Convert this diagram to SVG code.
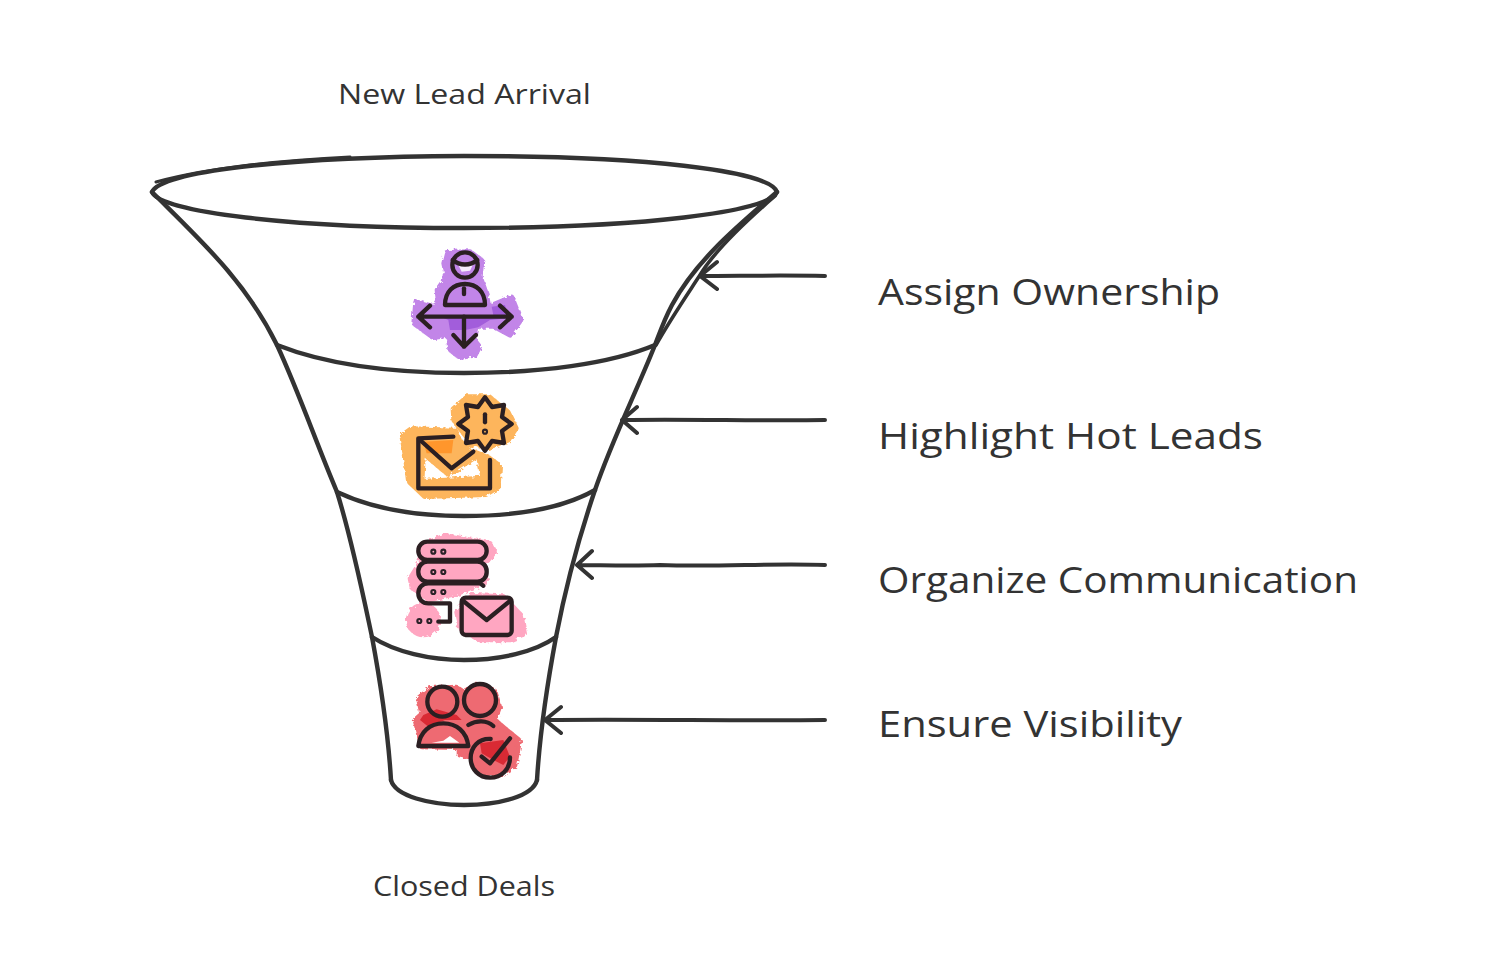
<svg xmlns="http://www.w3.org/2000/svg" width="1512" height="978" viewBox="0 0 1512 978">
<style>
.ln{fill:none;stroke:#333;stroke-width:4.4;stroke-linecap:round;stroke-linejoin:round}
.ar{fill:none;stroke:#333;stroke-width:4;stroke-linecap:round;stroke-linejoin:round}
.ic{fill:none;stroke:#2b1f22;stroke-width:13;stroke-linecap:round;stroke-linejoin:round}
.dot{fill:none;stroke:#2b2228;stroke-width:6.5}
.t{font-family:"Open Sans","Liberation Sans",sans-serif;fill:#333}
.big{font-size:37px}
.small{font-size:28px}
.blob{stroke-width:16;stroke-linejoin:round;filter:url(#rough)}
.pu{fill:#c285e8;stroke:#c285e8}
.or{fill:#fdb55c;stroke:#fdb55c}
.pk{fill:#ffa6c1;stroke:#ffa6c1}
.rd{fill:#ee6a72;stroke:#ee6a72}
</style>
<defs>
<filter id="rough" x="-10%" y="-10%" width="120%" height="120%">
<feTurbulence type="fractalNoise" baseFrequency="0.09" numOctaves="2" seed="4" result="n"/>
<feDisplacementMap in="SourceGraphic" in2="n" scale="16"/>
</filter>
</defs>
<rect width="1512" height="978" fill="#fff"/>
<g id="funnel">
<path class="ln" d="M152 192C160 172 280 157 464 156C640 156 770 170 777 192C770 212 640 228 464 228C290 228 160 212 152 192Z"/>
<path class="ln" style="stroke-width:3" d="M156 182C200 170 270 161 350 157"/>
<path class="ln" d="M152 192C200 240 245 280 277 345C300 395 315 440 337 492C352 540 362 590 372 637C380 680 388 730 391 780"/>
<path class="ln" d="M777 192C735 228 695 262 672 305C664 320 660 332 655 345C635 395 612 440 595 490C578 540 565 590 556 637C548 680 540 730 537 780"/>
<path class="ln" style="stroke-width:3.6" d="M775 196C745 222 715 250 700 275C685 298 670 320 656 345"/>
<path class="ln" d="M277 345C330 366 400 373 464 373C540 373 610 364 655 345"/>
<path class="ln" d="M337 492C375 510 420 516 464 516C510 516 560 510 595 490"/>
<path class="ln" d="M372 637C395 652 430 660 464 660C500 660 535 652 556 637"/>
<path class="ln" d="M391 780C395 796 430 805 464 805C500 805 533 796 537 780"/>
</g>
<g id="connectors">
<path class="ar" d="M825 276C780 275 740 276 700 276M717 262L700 276L717 289"/>
<path class="ar" d="M825 420C760 421 690 419 622 420M637 407L622 420L637 433"/>
<path class="ar" d="M825 565C770 563 720 567 660 565C630 566 600 565 577 565M592 551L577 565L592 578"/>
<path class="ar" d="M825 720C740 721 640 719 545 720M561 707L545 720L561 733"/>
</g>
<g id="node-assign-ownership">
<g transform="translate(390 240) scale(.3333)">
<path class="blob pu" d="M170 38L240 36L275 62L270 110L288 160L296 200L365 172L392 240L360 285L310 258L262 258L252 300L268 320L255 345L210 352L180 328L175 285L130 292L72 250L78 186L130 200L146 190L142 150L170 110L162 70Z"/>
<path fill="#a25ddb" d="M140 225L310 225L305 200L345 195L355 235L300 240L265 262L225 270L180 270L175 240Z"/>
<path fill="#fff" opacity=".85" d="M205 75L250 72L240 92L215 95Z"/>
<g class="ic">
<circle cx="225" cy="75" r="38"/><path d="M188 60C210 78 240 78 262 60"/>
<path d="M165 195C165 155 190 132 225 132C260 132 285 155 285 195Z"/><path d="M222 145V162"/>
<path d="M85 230H365M120 197L85 230L120 262M330 197L365 230L330 262"/>
<path d="M222 230V320M190 285L222 320L258 285"/>
</g>
</g>
<text class="t big" x="878" y="305" textLength="342" lengthAdjust="spacingAndGlyphs">Assign Ownership</text>
</g>
<g id="node-highlight-hot-leads">
<g transform="translate(390 385) scale(.3333)">
<path class="blob or" d="M190 72L232 36L298 36L354 82L378 130L354 165L290 188L242 170L210 130L192 105Z"/>
<path class="blob or" fill-rule="evenodd" d="M36 152L64 132L196 136L210 172L240 182L205 210L250 200L298 220L328 242L324 306L288 328L104 334L56 288L46 210ZM100 205L175 268L265 210L280 280L95 290Z"/>
<path fill="#ff962c" d="M100 170L190 165L185 205L110 205Z"/>
<g class="ic">
<path d="M190 155L85 160V310H300V225"/><path d="M90 165L185 250L250 200"/>
<path d="M285 37L306 66L342 60L336 96L365 117L336 138L342 174L306 168L285 197L264 168L228 174L234 138L205 117L234 96L228 60L264 66Z"/>
<path d="M285 88V112"/>
</g>
<circle class="dot" cx="285" cy="140" r="6"/>
</g>
<text class="t big" x="878" y="449" textLength="385" lengthAdjust="spacingAndGlyphs">Highlight Hot Leads</text>
</g>
<g id="node-organize-communication">
<g transform="translate(395 525) scale(.3333)">
<path class="blob pk" d="M76 64L150 32L285 56L298 82L265 120L274 166L190 204L102 224L52 188L46 160L76 112Z"/>
<circle class="blob pk" cx="85" cy="285" r="44"/>
<path class="blob pk" d="M186 262L232 212L326 216L378 272L388 326L346 344L252 344L196 308Z"/>
<g class="ic">
<rect x="70" y="50" width="205" height="55" rx="27"/>
<rect x="70" y="110" width="205" height="60" rx="28"/>
<path d="M265 182L255 175H100C82 175 70 188 70 205C70 222 82 235 100 235H165V290H130"/>
<rect x="200" y="218" width="150" height="112" rx="12"/>
<path d="M205 228L275 285L345 228"/>
</g>
<g class="dot">
<circle cx="115" cy="80" r="6"/><circle cx="145" cy="80" r="6"/>
<circle cx="115" cy="141" r="6"/><circle cx="145" cy="141" r="6"/>
<circle cx="115" cy="201" r="6"/><circle cx="145" cy="201" r="6"/>
<circle cx="73" cy="288" r="6"/><circle cx="103" cy="288" r="6"/>
</g>
</g>
<text class="t big" x="878" y="593" textLength="480" lengthAdjust="spacingAndGlyphs">Organize Communication</text>
</g>
<g id="node-ensure-visibility">
<g transform="translate(400 670) scale(.3333)">
<path class="blob rd" d="M56 84L92 56L168 52L190 66L230 46L284 64L298 110L284 150L316 178L358 212L344 286L298 314L234 304L218 262L178 254L178 232L66 230L46 150L66 132Z"/>
<path fill="#fff" d="M95 218L130 212L150 198L178 218Z"/>
<path fill="#d92a34" d="M70 135L110 118L170 135L185 150L135 150L85 170L60 150Z"/>
<path fill="#d92a34" d="M240 220L310 210L330 260L310 285L280 270L245 250Z"/>
<g class="ic">
<circle cx="127" cy="95" r="45"/><circle cx="240" cy="90" r="48"/>
<path d="M55 228C60 185 90 160 130 160C170 160 200 185 205 228Z"/>
<path d="M205 165C230 150 260 150 280 168"/>
<path d="M272 207C235 205 212 232 212 265C212 298 238 323 270 323C305 323 330 298 330 262"/>
<path d="M245 260L270 280L330 205"/>
</g>
</g>
<text class="t big" x="878" y="737" textLength="304" lengthAdjust="spacingAndGlyphs">Ensure Visibility</text>
</g>
<g id="node-new-lead-arrival">
<text class="t small" x="338" y="104" textLength="253" lengthAdjust="spacingAndGlyphs">New Lead Arrival</text>
</g>
<g id="node-closed-deals">
<text class="t small" x="373" y="896" textLength="182" lengthAdjust="spacingAndGlyphs">Closed Deals</text>
</g>
</svg>
